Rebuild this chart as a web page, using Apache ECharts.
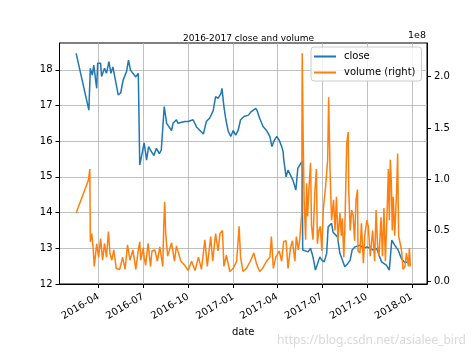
<!DOCTYPE html>
<html>
<head>
<meta charset="utf-8">
<script src="https://cdn.jsdelivr.net/npm/echarts@6/dist/echarts.min.js"></script>
<style>html,body{margin:0;padding:0;background:#fff;}#chart{width:474px;height:355px;}</style>
</head>
<body>
<div id="chart"></div>
<script>
// ---- data ----
const titleText = '2016-2017 close and volume';
const closeDates = ['2016-02-15','2016-03-12','2016-03-15','2016-03-19','2016-03-22','2016-03-28','2016-03-30','2016-04-05','2016-04-07','2016-04-13','2016-04-17','2016-04-22','2016-04-26','2016-04-30','2016-05-04','2016-05-11','2016-05-16','2016-05-21','2016-05-28','2016-06-01','2016-06-05','2016-06-10','2016-06-16','2016-06-21','2016-06-23','2016-06-24','2016-06-28','2016-07-03','2016-07-08','2016-07-12','2016-07-18','2016-07-23','2016-07-28','2016-08-03','2016-08-07','2016-08-11','2016-08-13','2016-08-18','2016-08-21','2016-08-28','2016-08-31','2016-09-07','2016-09-10','2016-09-14','2016-09-24','2016-10-01','2016-10-11','2016-10-18','2016-10-25','2016-11-01','2016-11-07','2016-11-14','2016-11-21','2016-11-26','2016-12-01','2016-12-07','2016-12-09','2016-12-13','2016-12-17','2016-12-22','2016-12-27','2017-01-01','2017-01-06','2017-01-11','2017-01-16','2017-01-23','2017-02-01','2017-02-07','2017-02-16','2017-02-19','2017-02-24','2017-03-03','2017-03-10','2017-03-17','2017-03-21','2017-03-26','2017-03-31','2017-04-03','2017-04-05','2017-04-10','2017-04-13','2017-04-14','2017-04-19','2017-04-23','2017-04-28','2017-05-03','2017-05-09','2017-05-13','2017-05-16','2017-05-19','2017-05-22','2017-05-23','2017-05-25','2017-06-03','2017-06-08','2017-06-13','2017-06-18','2017-06-22','2017-06-27','2017-07-01','2017-07-06','2017-07-11','2017-07-14','2017-07-18','2017-07-21','2017-07-24','2017-07-28','2017-08-02','2017-08-07','2017-08-12','2017-08-17','2017-08-23','2017-08-28','2017-09-01','2017-09-07','2017-09-17','2017-09-24','2017-10-01','2017-10-08','2017-10-14','2017-10-21','2017-10-24','2017-10-31','2017-11-04','2017-11-10','2017-11-16','2017-11-21','2017-11-27','2017-12-04','2017-12-11','2017-12-18','2017-12-25','2017-12-28'];
const closeValues = [18.46,16.87,18.04,17.85,18.13,17.48,18.18,18.18,17.81,18.04,17.90,18.23,17.90,18.08,17.80,17.30,17.35,17.71,17.95,18.27,17.99,17.90,17.80,17.90,17.85,15.33,15.28,15.95,15.47,15.85,15.70,15.60,15.80,15.65,15.75,15.70,16.97,16.50,16.50,16.30,16.50,16.60,16.50,16.45,16.55,16.55,16.60,16.40,16.30,16.20,16.55,16.65,16.85,17.25,17.20,17.34,17.48,16.97,16.60,16.27,16.13,16.30,16.17,16.30,16.60,16.69,16.73,16.83,16.92,16.85,16.64,16.41,16.30,16.13,15.85,16.03,16.13,16.17,16.03,15.85,15.70,15.52,15.00,15.19,15.05,14.91,14.63,15.24,15.28,15.38,15.45,12.95,12.90,12.90,13.00,12.76,12.39,12.34,12.76,12.67,12.62,12.86,13.60,13.65,13.70,13.45,13.50,13.32,12.86,12.67,12.48,12.57,12.67,12.95,13.04,13.09,13.00,13.04,13.00,12.95,13.00,12.95,12.62,12.67,12.53,12.39,13.23,13.09,12.95,12.70,12.60,12.62,12.72];

// volume in units of 1e8 (the right axis is labelled "1e8")
const volumeDates = ['2016-02-15','2016-03-11','2016-03-14','2016-03-15','2016-03-18','2016-03-21','2016-03-23','2016-03-28','2016-04-01','2016-04-05','2016-04-09','2016-04-13','2016-04-17','2016-04-21','2016-04-24','2016-04-28','2016-05-02','2016-05-07','2016-05-14','2016-05-20','2016-05-25','2016-05-30','2016-06-04','2016-06-10','2016-06-16','2016-06-21','2016-06-24','2016-06-26','2016-07-01','2016-07-03','2016-07-06','2016-07-11','2016-07-16','2016-07-19','2016-07-25','2016-07-30','2016-08-04','2016-08-10','2016-08-12','2016-08-14','2016-08-16','2016-08-20','2016-08-28','2016-09-03','2016-09-07','2016-09-10','2016-09-16','2016-09-24','2016-10-01','2016-10-08','2016-10-15','2016-10-22','2016-10-28','2016-11-01','2016-11-04','2016-11-09','2016-11-16','2016-11-20','2016-11-26','2016-12-01','2016-12-05','2016-12-10','2016-12-13','2016-12-18','2016-12-25','2017-01-01','2017-01-08','2017-01-13','2017-01-16','2017-01-21','2017-01-28','2017-02-05','2017-02-12','2017-02-18','2017-02-24','2017-03-02','2017-03-10','2017-03-17','2017-03-20','2017-03-24','2017-03-29','2017-04-05','2017-04-10','2017-04-14','2017-04-19','2017-04-23','2017-04-28','2017-05-02','2017-05-07','2017-05-10','2017-05-14','2017-05-17','2017-05-21','2017-05-22','2017-05-24','2017-05-26','2017-05-29','2017-05-31','2017-06-02','2017-06-05','2017-06-08','2017-06-10','2017-06-13','2017-06-17','2017-06-20','2017-06-22','2017-06-25','2017-06-28','2017-07-01','2017-07-04','2017-07-09','2017-07-13','2017-07-15','2017-07-18','2017-07-21','2017-07-25','2017-07-28','2017-07-31','2017-08-03','2017-08-07','2017-08-10','2017-08-12','2017-08-15','2017-08-17','2017-08-21','2017-08-24','2017-08-25','2017-08-28','2017-08-31','2017-09-03','2017-09-06','2017-09-09','2017-09-12','2017-09-13','2017-09-17','2017-09-20','2017-09-24','2017-09-27','2017-10-01','2017-10-04','2017-10-08','2017-10-13','2017-10-17','2017-10-20','2017-10-23','2017-10-26','2017-10-30','2017-11-02','2017-11-05','2017-11-08','2017-11-12','2017-11-14','2017-11-16','2017-11-18','2017-11-20','2017-11-22','2017-11-24','2017-11-27','2017-12-01','2017-12-03','2017-12-05','2017-12-08','2017-12-11','2017-12-14','2017-12-18','2017-12-21','2017-12-25','2017-12-27','2017-12-29'];
const volumeValues = [0.67,0.99,1.10,0.39,0.47,0.31,0.15,0.37,0.24,0.42,0.21,0.375,0.24,0.49,0.28,0.21,0.31,0.13,0.12,0.24,0.12,0.36,0.21,0.31,0.12,0.31,0.39,0.21,0.33,0.24,0.16,0.375,0.15,0.30,0.31,0.20,0.34,0.15,0.54,0.78,0.47,0.25,0.38,0.20,0.35,0.36,0.20,0.16,0.11,0.20,0.11,0.24,0.12,0.28,0.41,0.15,0.44,0.20,0.47,0.30,0.47,0.50,0.15,0.26,0.10,0.13,0.20,0.54,0.24,0.10,0.13,0.20,0.28,0.17,0.10,0.13,0.20,0.24,0.44,0.13,0.24,0.30,0.20,0.39,0.40,0.13,0.33,0.40,0.20,0.44,0.31,0.41,0.67,2.23,1.38,0.79,0.41,0.96,0.64,0.93,1.16,0.55,0.41,0.89,1.10,0.37,0.50,0.54,0.30,0.70,0.94,1.19,1.80,1.06,0.60,0.80,0.50,0.83,0.40,0.67,0.45,0.62,0.24,0.50,1.35,1.46,0.90,0.50,0.70,0.65,0.40,0.80,0.90,0.30,0.28,0.57,0.18,0.46,0.60,0.54,0.25,0.50,0.20,0.70,0.35,0.25,0.63,0.25,0.72,0.20,0.76,1.10,0.60,1.19,0.98,0.50,0.83,0.45,0.90,1.25,0.45,0.38,0.30,0.12,0.15,0.28,0.15,0.33,0.15];

const xTickDates = ['2016-04-01','2016-07-01','2016-10-01','2017-01-01','2017-04-01','2017-07-01','2017-10-01','2018-01-01'];
const xTickLabels = ['2016-04','2016-07','2016-10','2017-01','2017-04','2017-07','2017-10','2018-01'];
const leftTicks = [12, 13, 14, 15, 16, 17, 18];
const rightTicks = [0, 0.5, 1.0, 1.5, 2.0];
const seriesNames = ['close', 'volume (right)'];

// ---- chart ----
const FONT = 'DejaVu Sans';
const toTime = s => new Date(s + 'T00:00:00').getTime();
const chart = echarts.init(document.getElementById('chart'), null, {renderer: 'canvas'});
const xTicks = xTickDates.map(toTime);
const xLabelOf = v => { const i = xTicks.indexOf(v); return i >= 0 ? xTickLabels[i] : ''; };

const option = {
  animation: false,
  backgroundColor: '#ffffff',
  textStyle: {fontFamily: FONT},
  title: {
    text: titleText, left: 243.5, top: 29, textAlign: 'center',
    textStyle: {fontSize: 9, fontWeight: 'normal', color: '#000', fontFamily: FONT}
  },
  grid: {left: 59.5, right: 47, top: 43, bottom: 71, show: true, borderColor: '#000', borderWidth: 1, backgroundColor: 'transparent'},
  legend: {
    orient: 'vertical', left: 311, top: 47,
    data: seriesNames,
    icon: 'rect', itemWidth: 22, itemHeight: 2, itemGap: 3,
    padding: [3, 6, 2, 3],
    backgroundColor: 'rgba(255,255,255,0.8)', borderColor: '#cccccc', borderWidth: 1, borderRadius: 3,
    textStyle: {fontSize: 10, color: '#000', fontFamily: FONT, lineHeight: 13, padding: [0, 0, 0, 3]}
  },
  xAxis: {
    type: 'value', scale: true,
    min: toTime('2016-01-12'), max: toTime('2018-02-01'),
    name: 'date', nameLocation: 'middle', nameGap: 42,
    nameTextStyle: {fontSize: 10, color: '#000', fontFamily: FONT},
    axisLine: {show: true, onZero: false, lineStyle: {color: '#000', width: 1}},
    axisTick: {show: true, length: 4, lineStyle: {color: '#000'}, customValues: xTicks},
    axisLabel: {customValues: xTicks, rotate: 30, margin: 12, fontSize: 10, color: '#000', fontFamily: FONT, formatter: xLabelOf},
    splitLine: {show: false}
  },
  yAxis: [
    {
      type: 'value', position: 'left', min: 12, max: 18.75, interval: 1,
      axisLine: {show: true, onZero: false, lineStyle: {color: '#000', width: 1}},
      axisTick: {show: true, length: 4, lineStyle: {color: '#000'}, customValues: leftTicks},
      axisLabel: {customValues: leftTicks, margin: 7, fontSize: 10, color: '#000', fontFamily: FONT, formatter: v => String(v)},
      splitLine: {show: true, lineStyle: {color: '#b0b0b0', width: 0.8}}
    },
    {
      type: 'value', position: 'right', min: -0.022, max: 2.329,
      axisLine: {show: true, onZero: false, lineStyle: {color: '#000', width: 1}},
      axisTick: {show: true, length: 4, lineStyle: {color: '#000'}, customValues: rightTicks},
      axisLabel: {customValues: rightTicks, margin: 7, fontSize: 10, color: '#000', fontFamily: FONT, formatter: v => v.toFixed(1)},
      splitLine: {show: false}
    }
  ],
  graphic: [
    {type: 'text', right: 48, top: 31, style: {text: '1e8', font: '9.5px "DejaVu Sans"', fill: '#000'}},
    {type: 'text', right: 8, top: 335, style: {text: 'https://blog.csdn.net/asialee_bird', font: '12px "Noto Sans"', fill: '#d9d9d9'}}
  ],
  series: [
    {
      name: seriesNames[0], type: 'line', yAxisIndex: 0, showSymbol: false, symbol: 'none',
      lineStyle: {color: '#1f77b4', width: 1.5}, itemStyle: {color: '#1f77b4'},
      data: closeDates.map((d, i) => [toTime(d), closeValues[i]]), z: 2
    },
    {
      name: seriesNames[1], type: 'line', yAxisIndex: 1, showSymbol: false, symbol: 'none',
      lineStyle: {color: '#ff7f0e', width: 1.5}, itemStyle: {color: '#ff7f0e'},
      data: volumeDates.map((d, i) => [toTime(d), volumeValues[i]]), z: 3,
      markLine: {
        silent: true, symbol: 'none', label: {show: false}, animation: false, z: 1,
        lineStyle: {color: '#b0b0b0', width: 0.8, type: 'solid'},
        data: xTicks.map(t => ({xAxis: t}))
      }
    }
  ]
};
chart.setOption(option);
</script>
</body>
</html>
